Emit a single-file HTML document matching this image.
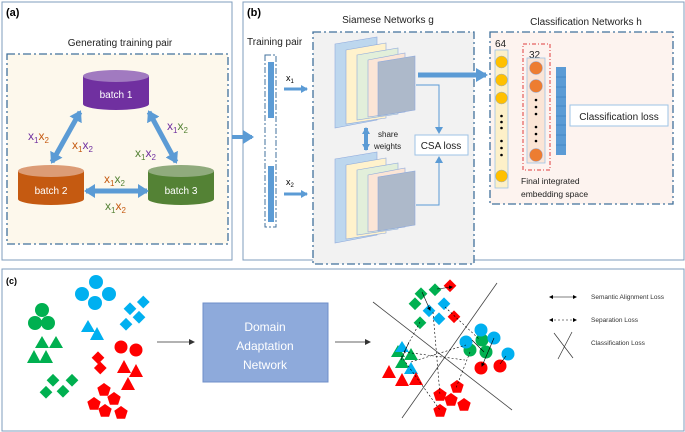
<!DOCTYPE html>
<html><head><meta charset="utf-8"><style>body{margin:0;background:#fff}svg{display:block}text{font-family:"Liberation Sans",sans-serif}</style></head><body>
<svg width="685" height="432" viewBox="0 0 685 432" xmlns="http://www.w3.org/2000/svg">
<defs>
<marker id="ah" markerUnits="userSpaceOnUse" markerWidth="6" markerHeight="6" refX="5" refY="3" orient="auto-start-reverse"><path d="M0,0L6,3L0,6z" fill="#333"/></marker>
<marker id="ahb" markerUnits="userSpaceOnUse" markerWidth="11" markerHeight="14" refX="9" refY="7" orient="auto-start-reverse"><path d="M0,0L11,7L0,14z" fill="#5b9bd5"/></marker>
<marker id="ahbs" markerUnits="userSpaceOnUse" markerWidth="7" markerHeight="8" refX="6" refY="4" orient="auto-start-reverse"><path d="M0,0L7,4L0,8z" fill="#5b9bd5"/></marker>
<marker id="ahbb" markerUnits="userSpaceOnUse" markerWidth="12" markerHeight="14" refX="10" refY="7" orient="auto-start-reverse"><path d="M0,0L12,7L0,14z" fill="#5b9bd5"/></marker>
<marker id="ahs" markerUnits="userSpaceOnUse" markerWidth="4" markerHeight="4" refX="3" refY="2" orient="auto-start-reverse"><path d="M0,0L4,2L0,4z" fill="#000"/></marker>
<polygon id="pent" points="0,-7 6.7,-2.2 4.1,5.7 -4.1,5.7 -6.7,-2.2"/>
</defs>
<rect x="2" y="2" width="230" height="258" fill="#fff" stroke="#7f9cbc" stroke-width="1"/>
<rect x="243" y="2" width="441" height="258" fill="#fff" stroke="#7f9cbc" stroke-width="1"/>
<rect x="2" y="269" width="682" height="162" fill="#fff" stroke="#7f9cbc" stroke-width="1"/>
<text x="6" y="16" font-size="11" font-weight="bold">(a)</text>
<text x="247" y="16" font-size="11" font-weight="bold">(b)</text>
<text x="6" y="284" font-size="9" font-weight="bold">(c)</text>
<!-- panel a -->
<text x="120" y="46" font-size="10" text-anchor="middle" fill="#222">Generating training pair</text>
<rect x="7" y="54" width="221" height="190" fill="#fdf8ec" stroke="#41719c" stroke-width="1.3" stroke-dasharray="8,3,2,3"/>
<path d="M83,76 v28 a33,6 0 0 0 66,0 v-28" fill="#7030a0"/><ellipse cx="116" cy="76" rx="33" ry="6" fill="#a17ac0"/>
<text x="116" y="98" font-size="10" fill="#fff" text-anchor="middle">batch 1</text>
<path d="M18,171 v28 a33,6 0 0 0 66,0 v-28" fill="#c55a11"/><ellipse cx="51" cy="171" rx="33" ry="6" fill="#dc9c76"/>
<text x="51" y="194" font-size="10" fill="#fff" text-anchor="middle">batch 2</text>
<path d="M148,171 v28 a33,6 0 0 0 66,0 v-28" fill="#548235"/><ellipse cx="181" cy="171" rx="33" ry="6" fill="#90ab7d"/>
<text x="181" y="194" font-size="10" fill="#fff" text-anchor="middle">batch 3</text>
<g stroke="#5b9bd5" stroke-width="5" fill="none" marker-start="url(#ahb)" marker-end="url(#ahb)">
<line x1="80" y1="112" x2="52" y2="162"/>
<line x1="149" y1="112" x2="176" y2="162"/>
<line x1="86" y1="191" x2="147" y2="191"/>
</g>
<g font-size="12">
<text x="28" y="140"><tspan fill="#7030a0">x</tspan><tspan fill="#7030a0" font-size="8" dy="3">1</tspan><tspan fill="#c55a11" dy="-3">x</tspan><tspan fill="#c55a11" font-size="8" dy="3">2</tspan></text>
<text x="72" y="149"><tspan fill="#c55a11">x</tspan><tspan fill="#c55a11" font-size="8" dy="3">1</tspan><tspan fill="#7030a0" dy="-3">x</tspan><tspan fill="#7030a0" font-size="8" dy="3">2</tspan></text>
<text x="167" y="130"><tspan fill="#7030a0">x</tspan><tspan fill="#7030a0" font-size="8" dy="3">1</tspan><tspan fill="#548235" dy="-3">x</tspan><tspan fill="#548235" font-size="8" dy="3">2</tspan></text>
<text x="135" y="157"><tspan fill="#548235">x</tspan><tspan fill="#548235" font-size="8" dy="3">1</tspan><tspan fill="#7030a0" dy="-3">x</tspan><tspan fill="#7030a0" font-size="8" dy="3">2</tspan></text>
<text x="104" y="183"><tspan fill="#c55a11">x</tspan><tspan fill="#c55a11" font-size="8" dy="3">1</tspan><tspan fill="#548235" dy="-3">x</tspan><tspan fill="#548235" font-size="8" dy="3">2</tspan></text>
<text x="105" y="210"><tspan fill="#548235">x</tspan><tspan fill="#548235" font-size="8" dy="3">1</tspan><tspan fill="#c55a11" dy="-3">x</tspan><tspan fill="#c55a11" font-size="8" dy="3">2</tspan></text>
</g>
<line x1="232" y1="137" x2="252" y2="137" stroke="#5b9bd5" stroke-width="4" marker-end="url(#ahb)"/>
<!-- panel b -->
<text x="247" y="45" font-size="10" fill="#222">Training pair</text>
<text x="388" y="23" font-size="10" text-anchor="middle" fill="#222">Siamese Networks g</text>
<text x="586" y="25" font-size="10" text-anchor="middle" fill="#222">Classification Networks h</text>
<rect x="313" y="32" width="161" height="232" fill="#f2f2f2" stroke="#41719c" stroke-width="1.3" stroke-dasharray="8,3,2,3"/>
<rect x="490" y="32" width="183" height="172" fill="#fdf3ef" stroke="#41719c" stroke-width="1.3" stroke-dasharray="8,3,2,3"/>
<rect x="265" y="55" width="11" height="172" fill="#fff" stroke="#41719c" stroke-width="1" stroke-dasharray="6,2,2,2"/>
<rect x="268" y="62" width="6" height="56" fill="#5b9bd5"/>
<rect x="268" y="166" width="6" height="56" fill="#5b9bd5"/>
<text x="286" y="81" font-size="9">x<tspan font-size="6" dy="2">1</tspan></text>
<text x="286" y="185" font-size="9">x<tspan font-size="6" dy="2">2</tspan></text>
<line x1="284" y1="89" x2="307" y2="89" stroke="#5b9bd5" stroke-width="3" marker-end="url(#ahbs)"/>
<line x1="284" y1="194" x2="307" y2="194" stroke="#5b9bd5" stroke-width="3" marker-end="url(#ahbs)"/>
<g stroke="#8faadc" stroke-width="0.6">
<g id="stk">
<polygon points="335,44 377,37 377,120 335,128" fill="#bdd7ee"/>
<polygon points="346,50 386,43 386,118 346,124" fill="#fff2cc"/>
<polygon points="357,55 398,48 398,114 357,120" fill="#e2efda"/>
<polygon points="368,60 405,53 405,112 368,117" fill="#fbe5d6"/>
<polygon points="378,62 415,56 415,110 378,116" fill="#adb9ca"/>
</g>
<use href="#stk" y="115"/>
</g>
<line x1="418" y1="75" x2="486" y2="75" stroke="#5b9bd5" stroke-width="5" marker-end="url(#ahbb)"/>
<path d="M416,85 H439 V133" fill="none" stroke="#5b9bd5" stroke-width="1" marker-end="url(#ahbs)"/>
<path d="M416,205 H439 V157" fill="none" stroke="#5b9bd5" stroke-width="1" marker-end="url(#ahbs)"/>
<rect x="415" y="135" width="53" height="20" fill="#fff" stroke="#9dc3e6"/>
<text x="441" y="149" font-size="10" text-anchor="middle" fill="#222">CSA loss</text>
<line x1="366" y1="128" x2="366" y2="150" stroke="#5b9bd5" stroke-width="4" marker-start="url(#ahbs)" marker-end="url(#ahbs)"/>
<text x="378" y="137" font-size="8" fill="#222">share</text>
<text x="374" y="149" font-size="8" fill="#222">weights</text>
<text x="495" y="47" font-size="10" fill="#222">64</text>
<rect x="495" y="50" width="13" height="138" fill="#fdf0c8" stroke="#9dc3e6" stroke-width="0.8"/>
<g fill="#ffc000" stroke="#8faadc" stroke-width="0.5">
<circle cx="501.5" cy="62" r="6"/><circle cx="501.5" cy="80" r="6"/><circle cx="501.5" cy="98" r="6"/><circle cx="501.5" cy="176" r="6"/>
</g>
<g fill="#000"><circle cx="501.5" cy="116" r="1.3"/><circle cx="501.5" cy="122" r="1.3"/><circle cx="501.5" cy="128" r="1.3"/><circle cx="501.5" cy="141" r="1.3"/><circle cx="501.5" cy="148" r="1.3"/><circle cx="501.5" cy="155" r="1.3"/></g>
<rect x="523" y="44" width="27" height="126" fill="none" stroke="#e03c3c" stroke-width="1" stroke-dasharray="4,2,1,2"/>
<text x="529" y="58" font-size="10" fill="#222">32</text>
<rect x="527" y="58" width="18" height="105" fill="#fbe5d6" stroke="#9dc3e6" stroke-width="0.8"/>
<g fill="#ed7d31" stroke="#8faadc" stroke-width="0.5"><circle cx="536" cy="68" r="6.5"/><circle cx="536" cy="86" r="6.5"/><circle cx="536" cy="155" r="6.5"/></g>
<g fill="#000"><circle cx="536" cy="100" r="1.3"/><circle cx="536" cy="107" r="1.3"/><circle cx="536" cy="114" r="1.3"/><circle cx="536" cy="127" r="1.3"/><circle cx="536" cy="134" r="1.3"/><circle cx="536" cy="141" r="1.3"/></g>
<rect x="556" y="67" width="10" height="88" fill="#5b9bd5"/>
<g stroke="#2e75b6" stroke-width="0.5"><line x1="556" y1="77" x2="566" y2="77"/><line x1="556" y1="87" x2="566" y2="87"/><line x1="556" y1="97" x2="566" y2="97"/><line x1="556" y1="106" x2="566" y2="106"/><line x1="556" y1="116" x2="566" y2="116"/><line x1="556" y1="125" x2="566" y2="125"/><line x1="556" y1="135" x2="566" y2="135"/><line x1="556" y1="145" x2="566" y2="145"/></g>
<rect x="570" y="105" width="98" height="21" fill="#fff" stroke="#9dc3e6"/>
<text x="619" y="120" font-size="10" text-anchor="middle" fill="#222">Classification loss</text>
<text x="521" y="184" font-size="8.5" fill="#222">Final integrated</text>
<text x="521" y="197" font-size="8.5" fill="#222">embedding space</text>
<!-- panel c left -->
<g fill="#00b050">
<circle cx="42" cy="310" r="7"/><circle cx="35" cy="323" r="7"/><circle cx="48" cy="323" r="7"/>
<polygon points="42,336 35,348 49,348"/><polygon points="56,336 49,348 63,348"/><polygon points="34,350 27,363 41,363"/><polygon points="46,350 39,363 53,363"/>
<rect x="48" y="376" width="9" height="9" transform="rotate(45 53 381)"/><rect x="67" y="376" width="9" height="9" transform="rotate(45 72 381)"/><rect x="41" y="388" width="9" height="9" transform="rotate(45 46 393)"/><rect x="58" y="387" width="9" height="9" transform="rotate(45 63 392)"/>
</g>
<g fill="#00b0f0">
<circle cx="96" cy="282" r="7"/><circle cx="82" cy="294" r="7"/><circle cx="109" cy="294" r="7"/><circle cx="95" cy="303" r="7"/>
<rect x="126" y="304" width="9" height="9" transform="rotate(45 130 308)"/><rect x="139" y="298" width="9" height="9" transform="rotate(45 144 302)"/><rect x="134" y="313" width="9" height="9" transform="rotate(45 139 318)"/><rect x="121" y="320" width="9" height="9" transform="rotate(45 126 325)"/>
<polygon points="88,320 81,332 95,332"/><polygon points="97,327 90,340 104,340"/>
</g>
<g fill="#ff0000">
<circle cx="121" cy="347" r="6.5"/><circle cx="136" cy="350" r="6.5"/>
<rect x="94" y="353" width="9" height="9" transform="rotate(45 98 357)"/><rect x="96" y="364" width="9" height="9" transform="rotate(45 101 368)"/>
<polygon points="124,360 117,373 131,373"/><polygon points="136,364 129,377 143,377"/><polygon points="128,377 121,390 135,390"/>
<use href="#pent" x="104" y="390"/><use href="#pent" x="114" y="399"/><use href="#pent" x="94" y="404"/><use href="#pent" x="105" y="411"/><use href="#pent" x="121" y="413"/>
</g>
<line x1="157" y1="342" x2="194" y2="342" stroke="#333" stroke-width="0.8" marker-end="url(#ah)"/>
<rect x="203" y="303" width="125" height="79" fill="#8eaadb" stroke="#6f8fc9"/>
<text x="265" y="331" font-size="12" fill="#fff" text-anchor="middle">Domain</text>
<text x="265" y="350" font-size="12" fill="#fff" text-anchor="middle">Adaptation</text>
<text x="265" y="369" font-size="12" fill="#fff" text-anchor="middle">Network</text>
<line x1="335" y1="342" x2="370" y2="342" stroke="#333" stroke-width="0.8" marker-end="url(#ah)"/>
<!-- panel c right -->
<line x1="373" y1="302" x2="512" y2="410" stroke="#444" stroke-width="0.8"/>
<line x1="497" y1="283" x2="402" y2="418" stroke="#444" stroke-width="0.8"/>
<g fill="#00b050">
<rect x="417" y="289" width="9" height="9" transform="rotate(45 421 293)"/><rect x="431" y="285" width="9" height="9" transform="rotate(45 435 289)"/><rect x="411" y="299" width="9" height="9" transform="rotate(45 415 303)"/><rect x="416" y="318" width="9" height="9" transform="rotate(45 420 322)"/>
<polygon points="398,345 391,357 405,357"/><polygon points="411,348 404,360 418,360"/><polygon points="402,356 395,368 409,368"/>
<circle cx="482" cy="340" r="6.5"/><circle cx="470" cy="350" r="6.5"/><circle cx="486" cy="352" r="6.5"/>
</g>
<g fill="#00b0f0">
<rect x="425" y="306" width="9" height="9" transform="rotate(45 429 310)"/><rect x="440" y="299" width="9" height="9" transform="rotate(45 444 303)"/><rect x="435" y="314" width="9" height="9" transform="rotate(45 439 318)"/>
<polygon points="402,341 395,352 409,352"/><polygon points="411,362 404,374 418,374"/>
<circle cx="481" cy="330" r="6.5"/><circle cx="494" cy="338" r="6.5"/><circle cx="508" cy="354" r="6.5"/><circle cx="466" cy="342" r="6.5"/>
</g>
<g fill="#ff0000">
<rect x="446" y="281" width="9" height="9" transform="rotate(45 450 285)"/><rect x="450" y="312" width="9" height="9" transform="rotate(45 454 316)"/>
<polygon points="389,365 382,378 396,378"/><polygon points="402,373 395,386 409,386"/><polygon points="416,372 409,385 423,385"/>
<circle cx="481" cy="368" r="6.5"/><circle cx="500" cy="366" r="6.5"/>
<use href="#pent" x="457" y="387"/><use href="#pent" x="440" y="395"/><use href="#pent" x="451" y="400"/><use href="#pent" x="464" y="405"/><use href="#pent" x="440" y="411"/>
</g>
<g stroke="#000" stroke-width="0.6" fill="none">
<line x1="437" y1="289" x2="452" y2="287" marker-end="url(#ahs)"/>
<line x1="422" y1="292" x2="430" y2="310" marker-end="url(#ahs)"/>
<line x1="409" y1="342" x2="401" y2="360"/>
<line x1="494" y1="338" x2="482" y2="366" marker-end="url(#ahs)"/>
<line x1="472" y1="340" x2="484" y2="352"/>
<line x1="506" y1="356" x2="500" y2="364"/>
<g stroke-dasharray="2,2">
<line x1="420" y1="322" x2="404" y2="352"/>
<line x1="433" y1="312" x2="440" y2="395"/>
<line x1="445" y1="307" x2="480" y2="340"/>
<line x1="411" y1="362" x2="466" y2="345"/>
<line x1="401" y1="356" x2="440" y2="410"/>
<line x1="470" y1="352" x2="456" y2="388"/>
<line x1="404" y1="352" x2="465" y2="360"/>
</g>
</g>
<line x1="550" y1="297" x2="576" y2="297" stroke="#000" stroke-width="0.6" marker-start="url(#ahs)" marker-end="url(#ahs)"/>
<text x="591" y="299" font-size="6.5" fill="#333">Semantic Alignment Loss</text>
<line x1="550" y1="320" x2="576" y2="320" stroke="#000" stroke-width="0.6" stroke-dasharray="2,2" marker-start="url(#ahs)" marker-end="url(#ahs)"/>
<text x="591" y="322" font-size="6.5" fill="#333">Separation Loss</text>
<line x1="554" y1="333" x2="573" y2="358" stroke="#333" stroke-width="0.7"/>
<line x1="572" y1="332" x2="558" y2="359" stroke="#333" stroke-width="0.7"/>
<text x="591" y="345" font-size="6.5" fill="#333">Classification Loss</text>
</svg>
</body></html>
